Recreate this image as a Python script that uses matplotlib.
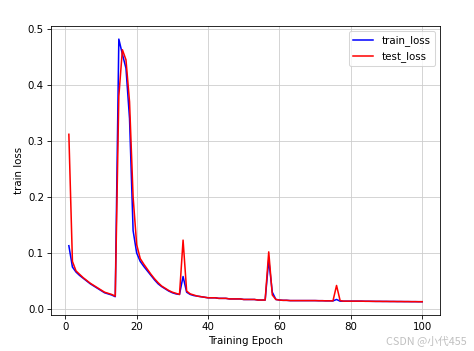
import numpy as np
import matplotlib
matplotlib.use("Agg")
import matplotlib.pyplot as plt

plt.rcParams['font.family'] = ['DejaVu Sans', 'Noto Sans CJK SC']

# 每个 epoch 的 loss
epochs = list(range(1, 101))
train_loss = [
    0.113, 0.075, 0.066, 0.060, 0.055, 0.050, 0.045, 0.041, 0.037, 0.033,
    0.029, 0.027, 0.025, 0.022, 0.482, 0.455, 0.430, 0.340, 0.140, 0.100,
    0.085, 0.076, 0.068, 0.060, 0.052, 0.045, 0.040, 0.036, 0.032, 0.029,
    0.027, 0.026, 0.058, 0.030, 0.026, 0.024, 0.023, 0.022, 0.021, 0.020,
    0.020, 0.020, 0.019, 0.019, 0.019, 0.018, 0.018, 0.018, 0.018, 0.017,
    0.017, 0.017, 0.017, 0.016, 0.016, 0.016, 0.088, 0.030, 0.017, 0.016,
    0.0155, 0.0155, 0.015, 0.015, 0.015, 0.015, 0.015, 0.015, 0.015, 0.015,
    0.0148, 0.0148, 0.0146, 0.0146, 0.0145, 0.017, 0.014, 0.014, 0.014, 0.014,
    0.014, 0.014, 0.014, 0.0138, 0.0138, 0.0137, 0.0136, 0.0136, 0.0135, 0.0135,
    0.0134, 0.0134, 0.0133, 0.0133, 0.0132, 0.0132, 0.0131, 0.0131, 0.013, 0.013,
]
test_loss = [
    0.312, 0.085, 0.068, 0.062, 0.056, 0.051, 0.046, 0.042, 0.038, 0.034,
    0.030, 0.028, 0.026, 0.023, 0.380, 0.463, 0.445, 0.370, 0.200, 0.115,
    0.090, 0.080, 0.071, 0.062, 0.054, 0.047, 0.041, 0.037, 0.033, 0.030,
    0.028, 0.026, 0.123, 0.032, 0.027, 0.025, 0.023, 0.022, 0.021, 0.020,
    0.020, 0.020, 0.019, 0.019, 0.019, 0.018, 0.018, 0.018, 0.018, 0.017,
    0.017, 0.017, 0.017, 0.016, 0.016, 0.016, 0.102, 0.025, 0.017, 0.016,
    0.0155, 0.0155, 0.015, 0.015, 0.015, 0.015, 0.015, 0.015, 0.015, 0.015,
    0.0148, 0.0148, 0.0146, 0.0146, 0.0145, 0.042, 0.015, 0.014, 0.014, 0.014,
    0.014, 0.014, 0.014, 0.0138, 0.0138, 0.0137, 0.0136, 0.0136, 0.0135, 0.0135,
    0.0134, 0.0134, 0.0133, 0.0133, 0.0132, 0.0132, 0.0131, 0.0131, 0.013, 0.013,
]

fig = plt.figure(figsize=(474 / 74, 351 / 74), dpi=74)
ax = fig.add_subplot(111)
plt.subplots_adjust(left=0.108, right=0.928, top=0.926, bottom=0.103)

ax.plot(epochs, train_loss, color='blue', label='train_loss')
ax.plot(epochs, test_loss, color='red', label='test_loss')
ax.set_xlabel('Training Epoch')
ax.set_ylabel('train loss')
ax.grid(True, color='#cccccc')
ax.legend(loc='upper right')

# 水印
fig.text(0.985, 0.015, 'CSDN @小代455', ha='right', va='bottom',
         color='#c0c0c0', fontsize=10.5, family=['Noto Sans CJK SC', 'DejaVu Sans'])

plt.savefig('out.png', dpi=74)
